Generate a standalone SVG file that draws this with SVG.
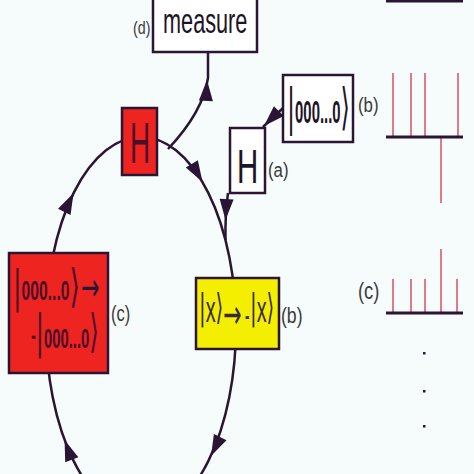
<svg xmlns="http://www.w3.org/2000/svg" width="474" height="474" viewBox="0 0 474 474">
<style>
.ln{fill:none;stroke:#2a1535;stroke-width:2.5}
.ah{fill:#2a1535}
.box{stroke:#2a1535;stroke-width:2.5}
.lbl{font-family:"Liberation Sans",Arial,sans-serif;fill:#3a3a3a}
.sans{font-family:"Liberation Sans",Arial,sans-serif}
.dj{font-family:"DejaVu Sans",sans-serif;font-weight:normal}
.dg{font-family:"Liberation Sans",Arial,sans-serif;font-weight:bold}
.bar{stroke:#e07a8a;stroke-width:2}
.base{stroke:#2a1535;stroke-width:3}
</style>
<defs>
<polygon id="arr" points="0,0 -21,-7 -21,7"/>
</defs>
<rect width="474" height="474" fill="#f6fcfc"/>
<g id="connectors">
<ellipse class="ln" cx="141" cy="327" rx="95" ry="190"/>
<path class="ln" d="M168,149 Q203,112 208,78 L208,52"/>
<path class="ln" d="M283,108 L263,127"/>
<path class="ln" d="M228,193 Q225,215 225.5,240"/>
<use href="#arr" class="ah" transform="translate(202.5,182) rotate(59.5)"/>
<use href="#arr" class="ah" transform="translate(211,456) rotate(116)"/>
<use href="#arr" class="ah" transform="translate(64.6,440) rotate(-110)"/>
<use href="#arr" class="ah" transform="translate(73.6,193) rotate(-63.6)"/>
<use href="#arr" class="ah" transform="translate(207,80) rotate(-87)"/>
<use href="#arr" class="ah" transform="translate(264,126) rotate(135)"/>
<use href="#arr" class="ah" transform="translate(225.5,220) rotate(93)"/>
</g>
<g id="measure">
<rect class="box" x="153" y="-2" width="104" height="54" fill="#ffffff"/>
<text class="sans" transform="translate(163,33) scale(0.62,1)" font-size="35" fill="#1e1428">measure</text>
<text class="lbl" transform="translate(133,34) scale(0.75,1)" font-size="19">(d)</text>
</g>
<g id="init">
<rect class="box" x="283" y="75" width="70" height="67" fill="#ffffff"/>
<text transform="translate(287,124) scale(0.48,1)" fill="#1e1428"><tspan class="dj" font-size="50">|</tspan><tspan class="dg" font-size="31" dy="-1">000...0</tspan><tspan class="dj" font-size="50" dy="1">⟩</tspan></text>
<text class="lbl" transform="translate(358,112) scale(0.8,1)" font-size="21">(b)</text>
</g>
<g id="hadamard-a">
<rect class="box" x="230" y="128" width="35" height="65" fill="#ffffff"/>
<text class="sans" transform="translate(237,183) scale(0.6,1)" font-size="49" fill="#1e1428">H</text>
<text class="lbl" transform="translate(268,177) scale(0.8,1)" font-size="21">(a)</text>
</g>
<g id="hadamard-top">
<rect class="box" x="122" y="108" width="35" height="67" fill="#ee2420"/>
<text class="sans" transform="translate(130,163) scale(0.49,1)" font-size="57" fill="#4a0f2a">H</text>
</g>
<g id="inversion">
<rect class="box" x="9" y="253" width="99" height="120" fill="#ee2420"/>
<text transform="translate(13,302) scale(0.58,1)" fill="#4a0f2a"><tspan class="dj" font-size="44">|</tspan><tspan class="dg" font-size="27" dy="-2">000...0</tspan><tspan class="dj" font-size="46" dy="2">⟩</tspan><tspan class="dj" font-size="38" font-weight="bold" dx="2" dy="-2" fill="#2a1535">→</tspan></text>
<text transform="translate(31,345) scale(0.53,1)" fill="#4a0f2a"><tspan class="dg" font-size="27">-</tspan><tspan class="dj" font-size="46" dy="2">|</tspan><tspan class="dg" font-size="28" dy="1">000...0</tspan><tspan class="dj" font-size="46" dy="-1">⟩</tspan></text>
<text class="lbl" transform="translate(111,321) scale(0.75,1)" font-size="22">(c)</text>
</g>
<g id="oracle">
<rect class="box" x="196" y="278" width="83" height="71" fill="#f4ee00"/>
<text transform="translate(199,319) scale(0.55,1)" fill="#3a2a40"><tspan class="dj" font-size="36">|</tspan><tspan class="sans" font-size="36" dy="3">x</tspan><tspan class="dj" font-size="36" dy="-3">⟩</tspan><tspan class="dj" font-size="40" dy="9">→</tspan><tspan class="dg" font-size="24" dx="6" dy="-4">-</tspan><tspan class="dj" font-size="36" dx="1" dy="-5">|</tspan><tspan class="sans" font-size="36" dy="3">x</tspan><tspan class="dj" font-size="36" dy="-3">⟩</tspan></text>
<text class="lbl" transform="translate(281,323) scale(0.8,1)" font-size="22">(b)</text>
</g>
<g id="spectrum-top">
<line class="base" x1="386" y1="1" x2="463" y2="1"/>
</g>
<g id="spectrum-b">
<line class="bar" x1="393" y1="73" x2="393" y2="137"/>
<line class="bar" x1="411" y1="73" x2="411" y2="137"/>
<line class="bar" x1="425" y1="73" x2="425" y2="137"/>
<line class="bar" x1="458" y1="73" x2="458" y2="137"/>
<line class="bar" x1="441" y1="137" x2="441" y2="203"/>
<line class="base" x1="386" y1="137" x2="463" y2="137"/>
</g>
<g id="spectrum-c">
<line class="bar" x1="393" y1="279" x2="393" y2="313"/>
<line class="bar" x1="411" y1="279" x2="411" y2="313"/>
<line class="bar" x1="425" y1="279" x2="425" y2="313"/>
<line class="bar" x1="441" y1="249" x2="441" y2="313"/>
<line class="bar" x1="457" y1="279" x2="457" y2="313"/>
<line class="base" x1="386" y1="313" x2="463" y2="313"/>
<text class="lbl" transform="translate(358,299) scale(0.8,1)" font-size="23">(c)</text>
</g>
<g id="dots" fill="#2a1535">
<rect x="423" y="352" width="2.5" height="2.5"/>
<rect x="423" y="390" width="2.5" height="2.5"/>
<rect x="423" y="425" width="2.5" height="2.5"/>
</g>
</svg>
